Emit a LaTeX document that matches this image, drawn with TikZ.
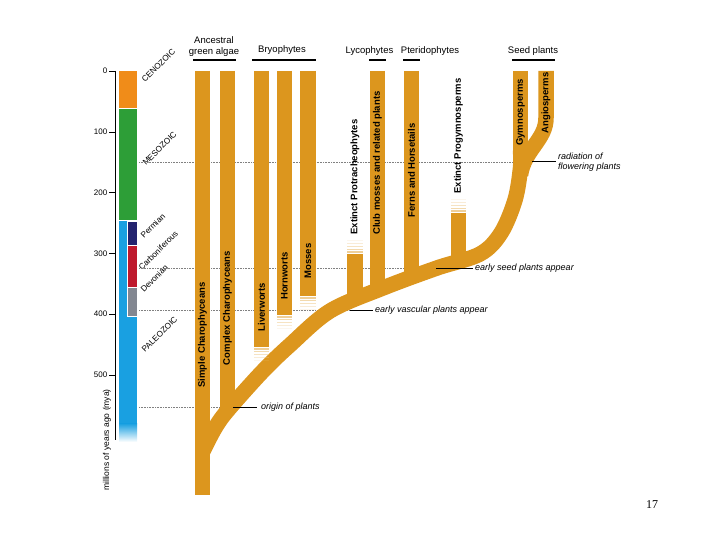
\documentclass[tikz,border=0pt]{standalone}
\usepackage{fontspec}
\setmainfont{Liberation Sans}
\newfontfamily\pagefont{Liberation Serif}
\definecolor{branchcol}{RGB}{220,150,30}
\definecolor{cenozoic}{RGB}{240,140,25}
\definecolor{mesozoic}{RGB}{45,158,55}
\definecolor{paleozoic}{RGB}{25,160,225}
\definecolor{permian}{RGB}{35,35,110}
\definecolor{carbon}{RGB}{190,25,45}
\definecolor{devon}{RGB}{130,135,145}

\begin{document}
\begin{tikzpicture}[x=1pt,y=-1pt,
    branch/.style={draw=branchcol,line width=15.5pt,line join=round},
    fade/.style={draw=branchcol!55,line width=1.3pt},
    lineage/.style={rotate=90,inner sep=0pt,font=\fontsize{9.5}{10}\selectfont\bfseries},
    clade/.style={align=center,inner sep=0pt,font=\fontsize{9.5}{11}\selectfont},
    cladebar/.style={line width=2.6pt},
    era/.style={rotate=45,anchor=base west,inner sep=0pt,font=\fontsize{8.2}{10}\selectfont},
    event/.style={anchor=west,inner sep=0pt,align=left,font=\fontsize{9}{10.5}\selectfont\itshape},
    leader/.style={line width=1pt},
    timeline/.style={densely dotted,gray,line width=0.6pt}]
    \useasboundingbox (0,0) rectangle (720,540);

    % time axis
    \draw (115,71) -- (115,440);
    \foreach \t in {0,100,...,500}
        \draw (109,{71+0.608*\t}) -- (115,{71+0.608*\t}) node[pos=0,left,inner sep=1.5pt,font=\fontsize{8}{9}\selectfont] (tick\t) {\t};
    \node[rotate=90,inner sep=0pt,font=\fontsize{8.5}{10}\selectfont] (axislabel) at (107,440) {millions of years ago (mya)};

    % eras and periods
    \fill[cenozoic] (119,71) rectangle (137,108);
    \fill[mesozoic] (119,109) rectangle (137,220);
    \fill[paleozoic] (119,221) rectangle (137,424);
    \shade[top color=paleozoic,bottom color=white] (119,423.5) rectangle (137,442);
    \filldraw[draw=white,line width=0.8pt,fill=permian] (127,221) rectangle (137,245);
    \filldraw[draw=white,line width=0.8pt,fill=carbon] (127,245) rectangle (137,287);
    \filldraw[draw=white,line width=0.8pt,fill=devon] (127,287) rectangle (137,316);
    \foreach \Point/\Era [count=\i] in {(145,83)/CENOZOIC, (146,166)/MESOZOIC, (144,239)/Permian, (142,271)/Carboniferous, (144,293)/Devonian, (145,353)/PALEOZOIC}
        \node[era] (era\i) at \Point {\Era};

    % event levels
    \foreach \y/\x in {162/532, 268/436, 310/350, 407/233}
        \draw[timeline] (139,\y) -- (\x,\y);

    % clades
    \node[clade] (algae) at (214,47) {Ancestral\\green algae};
    \node[clade] (bryo) at (282,50) {Bryophytes};
    \node[clade] (lyco) at (369.5,51) {Lycophytes};
    \node[clade] (pteri) at (430,51) {Pteridophytes};
    \node[clade] (seed) at (533,51) {Seed plants};
    \foreach \a/\b in {193/236, 252/316, 369/386, 403/420, 512/555}
        \draw[cladebar] (\a,60) -- (\b,60);

    % lineages
    \coordinate (fork) at (202.5,452);
    \draw[branch] (202.5,71) -- (202.5,495);
    \draw[branch] plot[smooth,tension=0.55] coordinates {(fork) (215,428) (228,410) (262,372) (290,345) (330,311) (383,288) (437,268) (480,254) (501,233) (515,200) (520.5,168) (520.5,150)};
    \draw[branch] (227.5,71) -- (227.5,410);
    \draw[branch] (261.5,71) -- (261.5,347);
    \draw[branch] (284.5,71) -- (284.5,315);
    \draw[branch] (308,71) -- (308,296);
    \draw[branch] (355,254) -- (355,302);
    \draw[branch] (377.5,71) -- (377.5,292);
    \draw[branch] (411.5,71) -- (411.5,278);
    \draw[branch] (458.5,213) -- (458.5,262);
    \draw[branch] (520.5,71) -- (520.5,172);
    \draw[branch] (546,71) -- (546,118) .. controls (546,140) and (524,150) .. (520.5,175);

    % extinct ends
    \foreach \x/\y/\s in {261.5/347/1, 284.5/315/1, 308/296/1, 355/254/-1, 458.5/213/-1}
        \foreach \k in {1,...,5}
            \draw[fade,opacity={1-0.17*\k}] ({\x-7.75},{\y+\s*(2.8*\k-0.8)}) -- ({\x+7.75},{\y+\s*(2.8*\k-0.8)});

    \foreach \Point/\Name [count=\i] in {(202.5,335)/Simple Charophyceans, (227.5,308)/Complex Charophyceans, (261.5,307)/Liverworts, (284.5,276)/Hornworts, (308,261)/Mosses, (355,177)/Extinct Protracheophytes, (377.5,163)/Club mosses and related plants, (411.5,170.5)/Ferns and Horsetails, (458.5,136)/Extinct Progymnosperms, (520.5,112.5)/Gymnosperms, (546,103)/Angiosperms}
        \node[lineage] (lineage\i) at \Point {\Name};

    % events
    \node[event] (radiation) at (558,162) {radiation of\\flowering plants};
    \node[event] (seedev) at (475,268) {early seed plants appear};
    \node[event] (vascular) at (375,310) {early vascular plants appear};
    \node[event] (origin) at (261,407) {origin of plants};
    \coordinate (radpt) at (532,162);
    \coordinate (seedpt) at (436,268);
    \coordinate (vascpt) at (350,310);
    \coordinate (origpt) at (233,407);
    \draw[leader] (radpt) -- ([xshift=-2pt]radiation.west);
    \draw[leader] (seedpt) -- ([xshift=-2pt]seedev.west);
    \draw[leader] (vascpt) -- ([xshift=-2pt]vascular.west);
    \draw[leader] (origpt) -- ([xshift=-4pt]origin.west);

    \node[font=\pagefont\fontsize{12}{14}\selectfont] (page) at (652,505) {17};
\end{tikzpicture}
\end{document}
